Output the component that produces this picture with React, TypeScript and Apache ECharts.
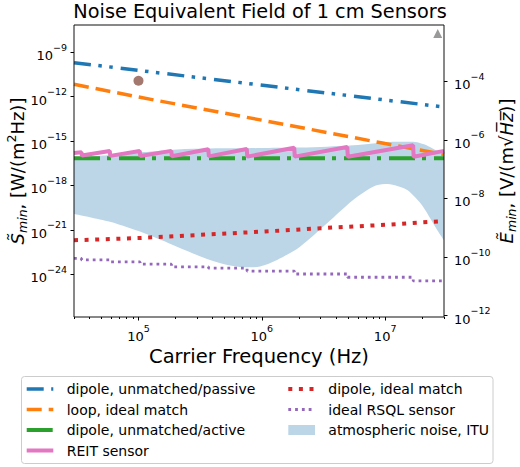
import React, { useEffect, useRef } from 'react';
import * as echarts from 'echarts';

const FONT = 'DejaVu Sans';

// ---------- data (frequency in Hz, S in W/(m^2 Hz)) ----------
const dipolePassiveFreq = [3e4, 3e7];
const dipolePassive = [2.0e-10, 2.0e-13];

const loopFreq = [3e4, 1e5, 1e6, 1e7, 3e7];
const loopIdeal = [6.9e-12, 9.5e-13, 2.6e-14, 6.8e-16, 1.25e-16];

const dipoleActiveFreq = [3e4, 3e7];
const dipoleActive = [7.0e-17, 7.0e-17];

const reitFreq = [3.0e4, 3.45e4, 3.47e4, 5.85e4, 5.9e4, 1.023e5, 1.033e5, 1.845e5, 1.862e5, 3.68e5, 3.72e5, 7.55e5, 7.62e5, 1.832e6, 1.849e6, 4.93e6, 4.98e6, 1.687e7, 1.702e7, 3.0e7];
const reit = [1.58e-16, 1.74e-16, 1.07e-16, 2.14e-16, 1.0e-16, 2.14e-16, 9.8e-17, 2.19e-16, 9.5e-17, 2.82e-16, 9.3e-17, 2.95e-16, 8.9e-17, 3.55e-16, 8.9e-17, 3.98e-16, 8.7e-17, 5.25e-16, 8.7e-17, 2.19e-16];

const idealMatchFreq = [3e4, 1e5, 3e5, 1e6, 3e6, 1e7, 3e7];
const idealMatch = [2.0e-22, 2.8e-22, 4.5e-22, 7.6e-22, 1.3e-21, 2.2e-21, 4.0e-21];

const rsqlFreq = [3e4, 3.45e4, 5.87e4, 1.03e5, 1.85e5, 3.7e5, 7.59e5, 1.84e6, 4.95e6, 1.69e7, 3e7];
const rsql = [1.2e-23, 9.3e-24, 6.8e-24, 4.8e-24, 3.2e-24, 2.6e-24, 1.65e-24, 1.05e-24, 6.3e-25, 3.55e-25, 3.55e-25];

const ituFreq = [3.0e4, 5.87e4, 1.09e5, 2.05e5, 3.8e5, 5.84e5, 7.59e5, 9.67e5, 1.33e6, 2.04e6, 3.38e6, 5.5e6, 7.98e6, 1.0e7, 1.2e7, 1.51e7, 1.75e7, 2.03e7, 2.31e7, 2.64e7, 3.0e7];
const ituUpper = [7.2e-17, 1.15e-16, 1.8e-16, 2.75e-16, 3.2e-16, 3.25e-16, 3.3e-16, 3.4e-16, 3.55e-16, 3.7e-16, 4.2e-16, 5.2e-16, 6.9e-16, 8.1e-16, 9.1e-16, 9.1e-16, 8.7e-16, 6.3e-16, 4.0e-16, 2.2e-16, 1.35e-16];
const ituLower = [1.2e-20, 3.5e-21, 6.3e-22, 7.4e-23, 9.3e-24, 3.6e-24, 2.95e-24, 3.4e-24, 9.3e-24, 7.4e-23, 2.8e-21, 1.05e-19, 8.3e-19, 1.26e-18, 1.05e-18, 5.0e-19, 1.6e-19, 3.7e-20, 6.3e-21, 1.0e-21, 2.0e-22];

const markerFreq = [1e5];
const markerVal = [1.2e-11];
const triangleFreq = [2.67e7];
const triangleVal = [1.9e-8];

// axis ranges and ticks (exponents)
const xRange = [3e4, 3e7];
const sRange = [1.3e-27, 7.0e-8];
const eRange = [8.9e-13, 8.5e-3];
const xMajorExp = [5, 6, 7];
const xMinorFreq = [3e4, 4e4, 5e4, 6e4, 7e4, 8e4, 9e4, 2e5, 3e5, 4e5, 5e5, 6e5, 7e5, 8e5, 9e5, 2e6, 3e6, 4e6, 5e6, 6e6, 7e6, 8e6, 9e6, 2e7, 3e7];
const sTickExp = [-24, -21, -18, -15, -12, -9];
const eTickExp = [-12, -10, -8, -6, -4];

const legendLeft = ['dipole, unmatched/passive', 'loop, ideal match', 'dipole, unmatched/active', 'REIT sensor'];
const legendRight = ['dipole, ideal match', 'ideal RSQL sensor', 'atmospheric noise, ITU'];

const C = {
  blue: '#1f77b4', orange: '#ff7f0e', green: '#2ca02c', red: '#d62728',
  purple: '#9467bd', brown: '#8c564b', pink: '#e377c2', grey: '#7f7f7f', band: '#bcd6e8',
};

const L = Math.log10;
const xy = (fs: number[], vs: number[]) => fs.map((f, i) => [L(f), L(vs[i])]);

const tickRich = {
  b: { fontSize: 13, fontFamily: FONT, color: '#000', lineHeight: 20, verticalAlign: 'bottom' },
  s: { fontSize: 9.5, fontFamily: FONT, color: '#000', lineHeight: 11, verticalAlign: 'top' },
};
const nameRich = {
  t: { fontSize: 18, fontFamily: FONT, color: '#000', lineHeight: 24, verticalAlign: 'middle' },
  i: { fontSize: 18, fontFamily: FONT, fontStyle: 'italic', color: '#000', lineHeight: 24, verticalAlign: 'middle' },
  sub: { fontSize: 12.5, fontFamily: FONT, fontStyle: 'italic', color: '#000', lineHeight: 14, verticalAlign: 'bottom' },
  sup: { fontSize: 12.5, fontFamily: FONT, color: '#000', lineHeight: 12, verticalAlign: 'top' },
};

const dashes: Record<string, any> = {
  passive: [17, 7.5, 3.5, 7.5, 3.5, 8],
  loop: [15, 7],
  active: [26, 7, 4, 8],
  ideal: [4, 6.6],
  rsql: [2.8, 4],
};

const lineSeries = (name: string, data: number[][], color: string, width: number, type: any, extra: any = {}) => ({
  name, type: 'line', data, symbol: 'none', silent: true,
  lineStyle: { color, width, type, cap: 'butt' },
  ...extra,
});

const GRID = { left: 74, top: 25, width: 370, height: 292 };

function buildLegend() {
  const els: any[] = [];
  els.push({ type: 'rect', shape: { x: 21.5, y: 376.5, width: 471.5, height: 87, r: 3 }, style: { fill: '#fff', stroke: '#cccccc', lineWidth: 1 }, silent: true });
  const rows = [389, 409.5, 430, 450.5];
  const leftStyles = [
    { c: C.blue, w: 3.5, d: dashes.passive },
    { c: C.orange, w: 3.5, d: dashes.loop },
    { c: C.green, w: 4, d: dashes.active },
    { c: C.pink, w: 4, d: null },
  ];
  legendLeft.forEach((t, i) => {
    const s = leftStyles[i];
    els.push({ type: 'line', shape: { x1: 26.7, y1: rows[i], x2: 53.3, y2: rows[i] }, style: { stroke: s.c, lineWidth: s.w, lineDash: s.d, lineCap: 'butt' }, silent: true });
    els.push({ type: 'text', x: 66.7, y: rows[i], style: { text: t, fontSize: 14, fontFamily: FONT, fill: '#000', verticalAlign: 'middle', align: 'left' }, silent: true });
  });
  const rightStyles = [
    { c: C.red, w: 4, d: dashes.ideal },
    { c: C.purple, w: 2.8, d: dashes.rsql },
  ];
  legendRight.forEach((t, i) => {
    if (i < 2) {
      const s = rightStyles[i];
      els.push({ type: 'line', shape: { x1: 288.3, y1: rows[i], x2: 315, y2: rows[i] }, style: { stroke: s.c, lineWidth: s.w, lineDash: s.d, lineCap: 'butt' }, silent: true });
    } else {
      els.push({ type: 'rect', shape: { x: 288.3, y: rows[i] - 5, width: 26.7, height: 10 }, style: { fill: C.band }, silent: true });
    }
    els.push({ type: 'text', x: 328.3, y: rows[i], style: { text: t, fontSize: 14, fontFamily: FONT, fill: '#000', verticalAlign: 'middle', align: 'left' }, silent: true });
  });
  // plot frame on top of fills
  els.push({ type: 'rect', z: 100, shape: { x: GRID.left, y: GRID.top, width: GRID.width, height: GRID.height }, style: { fill: 'none', stroke: '#111', lineWidth: 1 }, silent: true });
  return els;
}

export default function App() {
  const ref = useRef<HTMLDivElement>(null);
  useEffect(() => {
    const chart = echarts.init(ref.current!, null, { renderer: 'svg' });
    const tickStyle = { lineStyle: { color: '#000', width: 1 } };
    const option: any = {
      animation: false,
      backgroundColor: '#fff',
      title: {
        text: 'Noise Equivalent Field of 1 cm Sensors',
        left: 'center', top: 0, padding: 0,
        textStyle: { fontSize: 19.3, fontWeight: 'normal', fontFamily: FONT, color: '#000', lineHeight: 22 },
      },
      grid: { ...GRID, show: false, containLabel: false, outerBoundsMode: 'none' },
      xAxis: [
        {
          type: 'value', min: L(xRange[0]), max: L(xRange[1]), position: 'bottom',
          axisLine: { show: false }, splitLine: { show: false },
          axisTick: { show: true, customValues: xMajorExp, length: 3.5, ...tickStyle },
          axisLabel: { customValues: xMajorExp, formatter: (v: number) => `{b|10}{s|${Math.round(v)}}`, rich: tickRich, margin: 6 },
          name: 'Carrier Frequency (Hz)', nameLocation: 'middle', nameGap: 27, nameMoveOverlap: false,
          nameTextStyle: { fontSize: 19.5, fontFamily: FONT, color: '#000', lineHeight: 24 },
        },
        {
          type: 'value', min: L(xRange[0]), max: L(xRange[1]), position: 'bottom',
          axisLine: { show: false }, splitLine: { show: false }, axisLabel: { show: false },
          axisTick: { show: true, customValues: xMinorFreq.map(L), length: 2, ...tickStyle },
        },
      ],
      yAxis: [
        {
          type: 'value', min: L(sRange[0]), max: L(sRange[1]), position: 'left',
          axisLine: { show: false }, splitLine: { show: false },
          axisTick: { show: true, customValues: sTickExp, length: 3.5, ...tickStyle },
          axisLabel: { customValues: sTickExp, formatter: (v: number) => `{b|10}{s|\u2212${Math.abs(Math.round(v))}}`, rich: tickRich, margin: 7 },
          name: '{i|S\u0303}{sub|min}{t|, [W/(m}{sup|2}{t|Hz)]}', nameLocation: 'middle', nameRotate: 90, nameGap: 45, nameMoveOverlap: false,
          nameTextStyle: { rich: nameRich, fontSize: 18, fontFamily: FONT },
        },
        {
          type: 'value', min: L(eRange[0]), max: L(eRange[1]), position: 'right',
          axisLine: { show: false }, splitLine: { show: false },
          axisTick: { show: true, customValues: eTickExp, length: 3.5, ...tickStyle },
          axisLabel: { customValues: eTickExp, formatter: (v: number) => `{b|10}{s|\u2212${Math.abs(Math.round(v))}}`, rich: tickRich, margin: 10 },
          name: '{i|\u1EBC}{sub|min}{t|, [V/(m\u221A}{i|H\u0305z\u0305}{t|)]}', nameLocation: 'middle', nameRotate: 90, nameGap: 50, nameMoveOverlap: false,
          nameTextStyle: { rich: nameRich, fontSize: 18, fontFamily: FONT },
        },
      ],
      graphic: { elements: buildLegend() },
      series: [
        {
          name: 'atmospheric noise, ITU', type: 'line', data: xy(ituFreq, ituUpper), symbol: 'none', silent: true, smooth: 0.3,
          lineStyle: { opacity: 0 }, areaStyle: { color: C.band, opacity: 1, origin: 'start' },
        },
        {
          name: 'itu-lower', type: 'line', data: xy(ituFreq, ituLower), symbol: 'none', silent: true, smooth: 0.3,
          lineStyle: { opacity: 0 }, areaStyle: { color: '#ffffff', opacity: 1, origin: 'start' },
        },
        lineSeries('dipole, unmatched/passive', xy(dipolePassiveFreq, dipolePassive), C.blue, 3.5, dashes.passive),
        lineSeries('loop, ideal match', xy(loopFreq, loopIdeal), C.orange, 3.5, dashes.loop),
        lineSeries('dipole, unmatched/active', xy(dipoleActiveFreq, dipoleActive), C.green, 4, dashes.active),
        lineSeries('REIT sensor', xy(reitFreq, reit), C.pink, 4, 'solid'),
        lineSeries('dipole, ideal match', xy(idealMatchFreq, idealMatch), C.red, 4, dashes.ideal),
        lineSeries('ideal RSQL sensor', xy(rsqlFreq, rsql), C.purple, 2.8, dashes.rsql, { step: 'end' }),
        {
          name: 'marker', type: 'scatter', data: xy(markerFreq, markerVal), symbol: 'circle', symbolSize: 10, silent: true,
          itemStyle: { color: C.brown },
        },
        {
          name: 'limit', type: 'scatter', data: xy(triangleFreq, triangleVal), symbol: 'triangle', symbolSize: 9, silent: true,
          itemStyle: { color: C.grey },
        },
      ],
    };
    chart.setOption(option);
    return () => chart.dispose();
  }, []);
  return <div ref={ref} style={{ position: 'fixed', left: 0, top: 0, width: 520, height: 467, background: '#fff' }} />;
}
